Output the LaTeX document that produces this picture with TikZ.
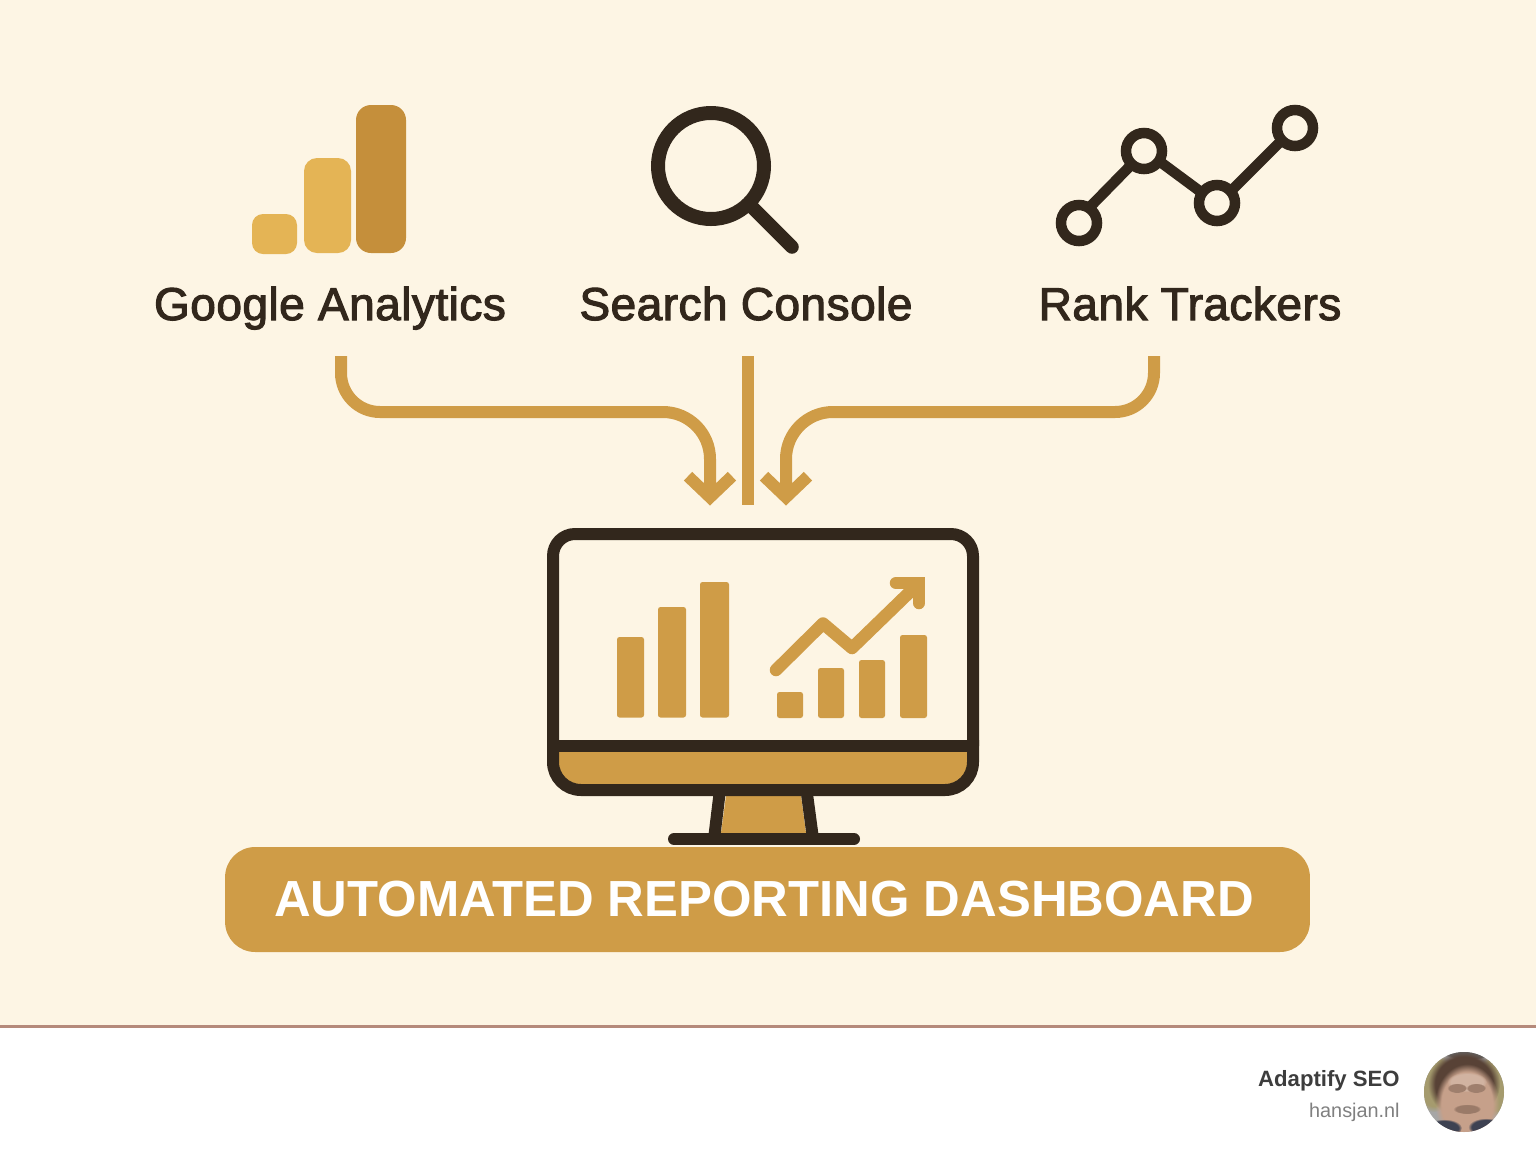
\documentclass[tikz,border=0pt]{standalone}
\usepackage{fontspec}
\setmainfont{Liberation Sans}
\newfontfamily\labelfont[FakeBold=2.4,LetterSpace=1]{Liberation Sans}
\usetikzlibrary{arrows.meta,fadings}
\definecolor{cream}{RGB}{253,245,228}
\definecolor{gold}{RGB}{207,156,71}
\definecolor{goldlight}{RGB}{228,180,85}
\definecolor{golddark}{RGB}{197,143,59}
\definecolor{ink}{RGB}{50,39,28}
\definecolor{rulecol}{RGB}{181,138,123}
\definecolor{skin}{RGB}{198,160,138}
\definecolor{hair}{RGB}{88,66,54}
\definecolor{leaves}{RGB}{165,155,110}
\definecolor{shirt}{RGB}{62,66,82}
\tikzset{
  feed/.style  ={gold, line width=0.24cm, -{Straight Barb[length=0.42cm,width=0.88cm]}},
  icon/.style  ={ink, line width=0.21cm, line cap=round},
  frame/.style ={ink, line width=0.24cm, line join=round},
  bar/.style   ={fill=gold, rounded corners=0.05cm},
  source/.style={text=ink, anchor=base, font=\labelfont\fontsize{26.2}{30}\selectfont, inner sep=0pt},
  soft/.style  ={path fading=circle with fuzzy edge 20 percent},
}

\begin{document}
\begin{tikzpicture}[x=0.02cm, y=-0.02cm]
  \useasboundingbox (0,0) rectangle (1536,1154);
  \fill[white] (0,0) rectangle (1536,1154);
  \fill[cream] (0,0) rectangle (1536,1025);
  \fill[rulecol] (0,1025) rectangle (1536,1027.5);

  % ---------- Top: the three sources ----------
  \fill[goldlight, rounded corners=0.22cm] (252,214) rectangle (297,254);
  \fill[goldlight, rounded corners=0.26cm] (304,158) rectangle (351,253);
  \fill[golddark, rounded corners=0.30cm] (356,105) rectangle (406,253);
  \node[source] (analytics) at (330,320) {Google Analytics};

  % magnifier
  \draw[icon, line width=0.28cm] (711,166) circle (53);
  \draw[icon, line width=0.27cm] (750,205) -- (792,247);
  \node[source] (console) at (746,320) {Search Console};

  % rank line with its four rings
  \draw[icon] (1085,212) -- (1135,161);
  \draw[icon] (1155,158) -- (1205,195);
  \draw[icon] (1228,194) -- (1285,137);
  \foreach \px/\py in {1079/223,1144/151,1217/203,1295/128}
    \draw[icon, fill=cream] (\px,\py) circle (18);
  \node[source] (trackers) at (1190,320) {Rank Trackers};

  % ---------- Middle: feeds into the monitor ----------
  \coordinate (analyticsStart) at (341,356);
  \coordinate (analyticsBend) at (341,412);
  \coordinate (analyticsEnd) at (710,505.5);
  \coordinate (consoleStart) at (747.7,356);
  \coordinate (consoleEnd) at (747.7,504.5);
  \coordinate (trackersStart) at (1154,356);
  \coordinate (trackersBend) at (1154,412);
  \coordinate (trackersEnd) at (786,505.5);

  \draw[feed] (analyticsStart) [rounded corners=0.78cm] -- (analyticsBend) [rounded corners=0.94cm] -| (analyticsEnd);
  \draw[feed, -] (consoleStart) -- (consoleEnd);
  \draw[feed] (trackersStart) [rounded corners=0.78cm] -- (trackersBend) [rounded corners=0.94cm] -| (trackersEnd);

  % ---------- Monitor ----------
  % stand, behind the case
  \fill[gold] (726,796) -- (801,796) -- (806,833) -- (721,833) -- cycle;
  \draw[frame] (719.5,794) -- (714.5,835);
  \draw[frame] (807,794) -- (812.5,835);
  \draw[frame, line cap=round] (674,839) -- (854,839);

  % chin panel
  \fill[gold] (559,750) [rounded corners=0.26cm] -- (559,784) -- (967,784) [sharp corners] -- (967,750) -- cycle;
  % case
  \draw[frame, rounded corners=0.44cm] (553,746) -- (553,534) -- (973,534) -- (973,746);
  \draw[frame, rounded corners=0.56cm] (553,740) -- (553,790) -- (973,790) -- (973,740);
  \draw[frame] (553,746) -- (973,746);

  % bars on the left of the screen
  \foreach \xa/\xb/\top in {617/644/637,658/686/607,700/729/582}
    \fill[bar] (\xa,\top) rectangle (\xb,717.5);
  % bars under the trend
  \foreach \xa/\xb/\top in {777/803/692,818/844/668,859/885/660,900/927/635}
    \fill[bar] (\xa,\top) rectangle (\xb,718);
  % trend arrow
  \draw[gold, line width=0.25cm, line cap=round, line join=round]
    (776,670) -- (823,623.5) -- (852,648) -- (917,585);
  \draw[gold, line width=0.25cm, line cap=round, line join=miter]
    (896,583) -- (919,583) -- (919,603);

  % ---------- Bottom: banner ----------
  \node[fill=gold, rounded corners=0.60cm, minimum width=21.7cm, minimum height=2.1cm,
    inner sep=0pt, text=white, font=\bfseries\fontsize{28.9}{34}\selectfont] (banner)
    at (767.5,899.5) {AUTOMATED REPORTING DASHBOARD\hspace*{0.14cm}};

  % ---------- Footer ----------
  \node[anchor=base east, inner sep=0pt, text=black!76, font=\bfseries\fontsize{12.6}{16}\selectfont]
    (brand) at (1400,1086) {Adaptify SEO};
  \node[anchor=base east, inner sep=0pt, text=black!50, font=\fontsize{11.3}{14}\selectfont]
    (site) at (1400,1117) {hansjan.nl};

  % portrait, rough soft shapes only
  \begin{scope}
    \clip (1464,1092) circle (40);
    \fill[black!35] (1424,1052) rectangle (1504,1132);
    \fill[soft, leaves] (1434,1082) ellipse (20 and 30);
    \fill[soft, leaves] (1496,1084) ellipse (20 and 32);
    \fill[soft, black!60] (1468,1052) ellipse (26 and 8);
    \fill[soft, hair] (1464,1084) ellipse (36 and 34);
    \fill[soft, skin] (1467,1104) ellipse (32 and 40);
    \fill[soft, skin!80!white] (1467,1082) ellipse (20 and 10);
    \fill[soft, skin!65!hair] (1457,1088) ellipse (10 and 5);
    \fill[soft, skin!65!hair] (1476,1088) ellipse (10 and 5);
    \fill[soft, skin!60!hair] (1467,1109) ellipse (14 and 5);
    \fill[soft, shirt] (1444,1128) ellipse (18 and 9);
    \fill[soft, shirt] (1486,1127) ellipse (18 and 9);
  \end{scope}
\end{tikzpicture}
\end{document}
